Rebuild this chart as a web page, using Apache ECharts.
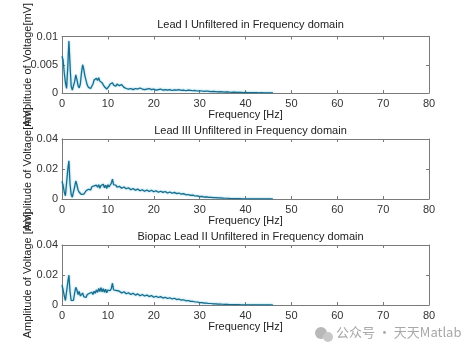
<!DOCTYPE html>
<html>
<head>
<meta charset="utf-8">
<script src="https://cdn.jsdelivr.net/npm/echarts@6/dist/echarts.min.js"></script>
<style>html,body{margin:0;padding:0;background:#fff;}#c{width:474px;height:355px;}</style>
</head>
<body>
<div id="c"></div>
<script>
// Frequency bins [Hz]
const freq = [0,0.25,0.5,0.75,1,1.25,1.5,1.75,2,2.25,2.5,2.75,3,3.25,3.5,3.75,4,4.25,4.5,4.75,5,5.25,5.5,5.75,6,6.25,6.5,6.75,7,7.25,7.5,7.75,8,8.25,8.5,8.75,9,9.25,9.5,9.75,10,10.25,10.5,10.75,11,11.25,11.5,11.75,12,
12.5,13,13.5,14,14.5,15,15.5,16,16.5,17,17.5,18,18.5,19,19.5,20,20.5,21,21.5,22,22.5,23,23.5,24,24.5,25,25.5,26,26.5,27,27.5,28,28.5,29,29.5,30,30.5,31,31.5,32,32.5,33,33.5,34,34.5,35,35.5,36,36.5,37,37.5,38,38.5,39,39.5,40,40.5,41,41.5,42,42.5,43,43.5,44,44.5,45,45.5,46];

// Amplitudes [mV]
const leadI = [0.0065,0.0058,0.0035,0.0018,0.0008,0.0045,0.0092,0.0050,0.0012,0.0005,
0.0007,0.0020,0.0032,0.0024,0.0013,0.0009,0.0016,0.0036,0.0050,0.0042,
0.0030,0.0022,0.0014,0.0010,0.0007,0.0008,0.0011,0.0016,0.0023,0.0020,
0.0026,0.0022,0.0027,0.0021,0.0024,0.0018,0.0015,0.0011,0.0009,0.0007,
0.0008,0.0012,0.0016,0.0013,0.0018,0.0014,0.0017,0.0012,0.0016,
0.0013,0.0015,0.0010,0.0008,0.0007,0.0008,0.0006,0.0008,0.0007,0.0009,
0.0007,0.0006,0.0007,0.0008,0.0006,0.0007,0.0005,0.0006,0.0007,0.0005,
0.0006,0.0005,0.0006,0.00045,0.00055,0.0005,0.0006,0.00045,0.0005,0.0004,
0.0005,0.00045,0.0004,0.00045,0.00035,0.0004,0.00035,0.0003,0.00035,0.0003,
0.00025,0.0003,0.00025,0.0002,0.00025,0.0002,0.00015,0.0002,0.00015,0.00012,
0.00015,0.0001,0.00012,0.0001,0.00008,0.0001,0.00007,0.00008,0.00006,0.00005,
0.00006,0.00004,0.00005,0.00003,0.00003,0.00002,0.00002,0.00001];

const leadIII = [0.0118,0.0090,0.0045,0.0022,0.0015,0.0195,0.0255,0.0100,0.0030,0.0012,
0.0020,0.0080,0.0120,0.0095,0.0060,0.0045,0.0035,0.0030,0.0038,0.0032,
0.0045,0.0055,0.0048,0.0065,0.0072,0.0060,0.0082,0.0070,0.0088,0.0075,
0.0092,0.0078,0.0095,0.0072,0.0090,0.0080,0.0098,0.0075,0.0092,0.0070,
0.0095,0.0080,0.0088,0.0105,0.0132,0.0095,0.0085,0.0092,0.0078,
0.0085,0.0072,0.0080,0.0068,0.0075,0.0062,0.0070,0.0058,0.0066,0.0055,
0.0062,0.0052,0.0060,0.0050,0.0058,0.0048,0.0055,0.0045,0.0052,0.0044,
0.0050,0.0040,0.0047,0.0038,0.0044,0.0036,0.0040,0.0032,0.0036,0.0028,
0.0030,0.0024,0.0026,0.0020,0.0021,0.0016,0.0017,0.0013,0.0014,0.0011,
0.0011,0.0009,0.0009,0.0007,0.0007,0.0006,0.0005,0.0005,0.0004,0.00035,
0.0003,0.00028,0.00024,0.0002,0.00018,0.00015,0.00013,0.00011,0.0001,0.00008,
0.00007,0.00006,0.00005,0.00004,0.00003,0.00003,0.00002,0.00001];

const biopacII = [0.0133,0.0100,0.0060,0.0030,0.0035,0.0150,0.0200,0.0090,0.0030,0.0020,
0.0030,0.0080,0.0118,0.0100,0.0070,0.0090,0.0060,0.0050,0.0080,0.0055,
0.0065,0.0050,0.0070,0.0060,0.0078,0.0065,0.0085,0.0070,0.0092,0.0078,
0.0100,0.0085,0.0110,0.0090,0.0115,0.0088,0.0108,0.0085,0.0105,0.0082,
0.0100,0.0088,0.0095,0.0110,0.0145,0.0100,0.0092,0.0098,0.0085,
0.0092,0.0080,0.0088,0.0075,0.0082,0.0070,0.0078,0.0066,0.0074,0.0062,
0.0070,0.0060,0.0066,0.0056,0.0063,0.0052,0.0058,0.0050,0.0056,0.0046,
0.0052,0.0043,0.0048,0.0040,0.0045,0.0036,0.0040,0.0032,0.0035,0.0028,
0.0030,0.0024,0.0025,0.0020,0.0020,0.0016,0.0016,0.0012,0.0013,0.0010,
0.0010,0.0008,0.0008,0.0006,0.0006,0.0005,0.0004,0.0004,0.00035,0.0003,
0.00026,0.00022,0.0002,0.00017,0.00015,0.00013,0.00011,0.0001,0.00008,0.00007,
0.00006,0.00005,0.00004,0.00003,0.00003,0.00002,0.00002,0.00001];

const titles = ['Lead I Unfiltered in Frequency domain','Lead III Unfiltered in Frequency domain','Biopac Lead II Unfiltered in Frequency domain'];
const yNames = ['Amplitude of Voltage[mV]','Amplitude of Voltage[mV]','Amplitude of Voltage [mV]'];
const xName = 'Frequency [Hz]';
const yMax = [0.01, 0.04, 0.04];
const yStep = [0.005, 0.02, 0.02];
const series = [leadI, leadIII, biopacII];

const gridTops = [33, 139, 245];
const titleTops = [14, 120, 226];
const axisColor = '#7a7a7a';
const textColor = '#333';
const font = 'Liberation Sans, Arial, sans-serif';
const tickFont = '"Liberation Sans Narrow", "Liberation Sans", Arial, sans-serif';

const option = {
  animation: false,
  backgroundColor: '#fff',
  title: [], grid: [], xAxis: [], yAxis: [], series: [],
  graphic: [
    {type:'circle', shape:{cx:321, cy:333, r:6}, style:{fill:'#b8b8b8'}},
    {type:'circle', shape:{cx:328, cy:337, r:5}, style:{fill:'#c8c8c8'}},
    {type:'text', left:336, top:326, style:{text:'公众号 · 天天Matlab', fill:'#a8a8a8', font:'13px "Noto Sans CJK SC", sans-serif'}}
  ]
};

for (let i = 0; i < 3; i++) {
  option.title.push({
    text: titles[i], left: 245.5, top: titleTops[i], textAlign: 'center',
    textStyle: {fontSize: 11, fontWeight: 'normal', color: '#222', fontFamily: font}
  });
  option.grid.push({left: 62, right: 45, top: gridTops[i], height: 60, show: false});
  const common = {gridIndex: i, type: 'value', min: 0, max: 80, interval: 10,
    axisLine: {show: true, onZero: false, lineStyle: {color: axisColor, width: 1}},
    axisTick: {show: true, inside: true, length: 3, lineStyle: {color: axisColor}},
    splitLine: {show: false}};
  option.xAxis.push(Object.assign({}, common, {
    position: 'bottom', name: xName, nameLocation: 'middle', nameGap: 16, nameMoveOverlap: false,
    nameTextStyle: {fontSize: 11, color: '#222', fontFamily: font},
    axisLabel: {fontSize: 11, color: textColor, margin: 5, fontFamily: tickFont}
  }));
  option.xAxis.push(Object.assign({}, common, {position: 'top', axisLabel: {show: false}}));
  const ycommon = {gridIndex: i, type: 'value', min: 0, max: yMax[i], interval: yStep[i],
    axisLine: {show: true, onZero: false, lineStyle: {color: axisColor, width: 1}},
    axisTick: {show: true, inside: true, length: 3, lineStyle: {color: axisColor}},
    splitLine: {show: false}};
  option.yAxis.push(Object.assign({}, ycommon, {
    position: 'left', name: yNames[i], nameLocation: 'middle', nameGap: 29, nameMoveOverlap: false,
    nameTextStyle: {fontSize: 11, color: '#222', fontFamily: font},
    axisLabel: {fontSize: 11, color: textColor, margin: 4, fontFamily: tickFont}
  }));
  option.yAxis.push(Object.assign({}, ycommon, {position: 'right', axisLabel: {show: false}}));
  option.series.push({
    type: 'line', xAxisIndex: 2 * i, yAxisIndex: 2 * i, showSymbol: false, symbol: 'none',
    data: freq.map((f, k) => [f, series[i][k]]),
    lineStyle: {color: '#1a6a8a', width: 1.2, shadowBlur: 2, shadowColor: 'rgba(40,170,210,0.8)'},
    itemStyle: {color: '#1a6a8a'}
  });
}

const chart = echarts.init(document.getElementById('c'), null, {renderer: 'canvas'});
chart.setOption(option);
</script>
</body>
</html>
